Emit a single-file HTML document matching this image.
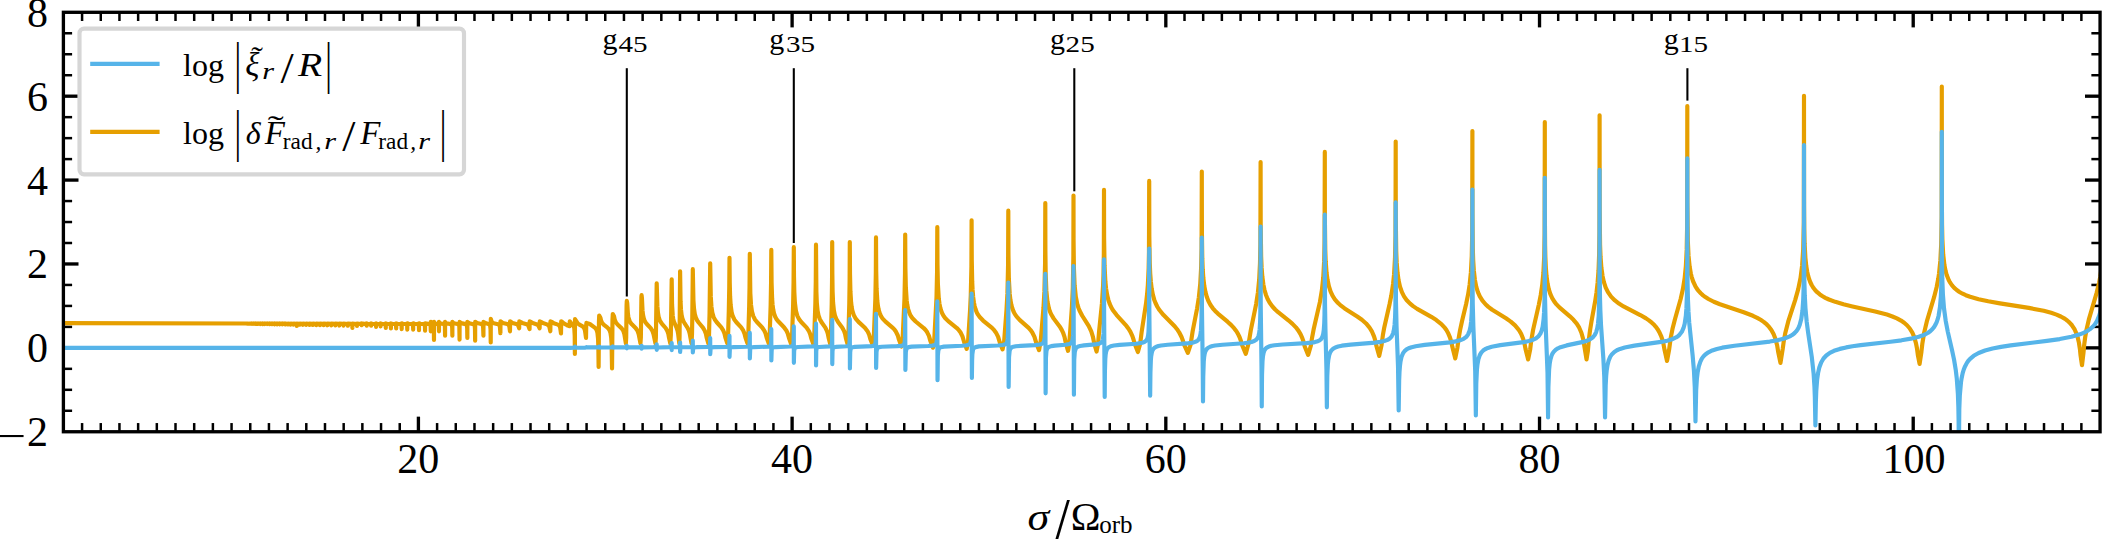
<!DOCTYPE html>
<html><head><meta charset="utf-8"><title>Tidal response spectrum</title>
<style>
html,body{margin:0;padding:0;background:#fff;}
body{width:2102px;height:539px;overflow:hidden;}
svg{display:block;}
.tM{stroke:#000;stroke-width:3.33;}
.tm{stroke:#000;stroke-width:2.5;}
.num{font-family:"Liberation Serif",serif;font-size:42px;fill:#000;}
.lg{font-family:"Liberation Serif",serif;font-size:33px;fill:#000;}
.it{font-style:italic;}
</style></head>
<body>
<svg width="2102" height="539" viewBox="0 0 2102 539">
<defs><clipPath id="ax"><rect x="63.40" y="12.30" width="2036.66" height="419.45"/></clipPath></defs>
<rect x="0" y="0" width="2102" height="539" fill="#fff"/>
<g id="ticks">
<line x1="82.08" y1="431.75" x2="82.08" y2="423.05" class="tm"/>
<line x1="82.08" y1="12.30" x2="82.08" y2="21.00" class="tm"/>
<line x1="100.77" y1="431.75" x2="100.77" y2="423.05" class="tm"/>
<line x1="100.77" y1="12.30" x2="100.77" y2="21.00" class="tm"/>
<line x1="119.45" y1="431.75" x2="119.45" y2="423.05" class="tm"/>
<line x1="119.45" y1="12.30" x2="119.45" y2="21.00" class="tm"/>
<line x1="138.14" y1="431.75" x2="138.14" y2="423.05" class="tm"/>
<line x1="138.14" y1="12.30" x2="138.14" y2="21.00" class="tm"/>
<line x1="156.82" y1="431.75" x2="156.82" y2="423.05" class="tm"/>
<line x1="156.82" y1="12.30" x2="156.82" y2="21.00" class="tm"/>
<line x1="175.51" y1="431.75" x2="175.51" y2="423.05" class="tm"/>
<line x1="175.51" y1="12.30" x2="175.51" y2="21.00" class="tm"/>
<line x1="194.19" y1="431.75" x2="194.19" y2="423.05" class="tm"/>
<line x1="194.19" y1="12.30" x2="194.19" y2="21.00" class="tm"/>
<line x1="212.88" y1="431.75" x2="212.88" y2="423.05" class="tm"/>
<line x1="212.88" y1="12.30" x2="212.88" y2="21.00" class="tm"/>
<line x1="231.56" y1="431.75" x2="231.56" y2="423.05" class="tm"/>
<line x1="231.56" y1="12.30" x2="231.56" y2="21.00" class="tm"/>
<line x1="250.25" y1="431.75" x2="250.25" y2="423.05" class="tm"/>
<line x1="250.25" y1="12.30" x2="250.25" y2="21.00" class="tm"/>
<line x1="268.94" y1="431.75" x2="268.94" y2="423.05" class="tm"/>
<line x1="268.94" y1="12.30" x2="268.94" y2="21.00" class="tm"/>
<line x1="287.62" y1="431.75" x2="287.62" y2="423.05" class="tm"/>
<line x1="287.62" y1="12.30" x2="287.62" y2="21.00" class="tm"/>
<line x1="306.30" y1="431.75" x2="306.30" y2="423.05" class="tm"/>
<line x1="306.30" y1="12.30" x2="306.30" y2="21.00" class="tm"/>
<line x1="324.99" y1="431.75" x2="324.99" y2="423.05" class="tm"/>
<line x1="324.99" y1="12.30" x2="324.99" y2="21.00" class="tm"/>
<line x1="343.67" y1="431.75" x2="343.67" y2="423.05" class="tm"/>
<line x1="343.67" y1="12.30" x2="343.67" y2="21.00" class="tm"/>
<line x1="362.36" y1="431.75" x2="362.36" y2="423.05" class="tm"/>
<line x1="362.36" y1="12.30" x2="362.36" y2="21.00" class="tm"/>
<line x1="381.04" y1="431.75" x2="381.04" y2="423.05" class="tm"/>
<line x1="381.04" y1="12.30" x2="381.04" y2="21.00" class="tm"/>
<line x1="399.73" y1="431.75" x2="399.73" y2="423.05" class="tm"/>
<line x1="399.73" y1="12.30" x2="399.73" y2="21.00" class="tm"/>
<line x1="418.41" y1="431.75" x2="418.41" y2="416.65" class="tM"/>
<line x1="418.41" y1="12.30" x2="418.41" y2="27.40" class="tM"/>
<line x1="437.10" y1="431.75" x2="437.10" y2="423.05" class="tm"/>
<line x1="437.10" y1="12.30" x2="437.10" y2="21.00" class="tm"/>
<line x1="455.78" y1="431.75" x2="455.78" y2="423.05" class="tm"/>
<line x1="455.78" y1="12.30" x2="455.78" y2="21.00" class="tm"/>
<line x1="474.47" y1="431.75" x2="474.47" y2="423.05" class="tm"/>
<line x1="474.47" y1="12.30" x2="474.47" y2="21.00" class="tm"/>
<line x1="493.15" y1="431.75" x2="493.15" y2="423.05" class="tm"/>
<line x1="493.15" y1="12.30" x2="493.15" y2="21.00" class="tm"/>
<line x1="511.84" y1="431.75" x2="511.84" y2="423.05" class="tm"/>
<line x1="511.84" y1="12.30" x2="511.84" y2="21.00" class="tm"/>
<line x1="530.52" y1="431.75" x2="530.52" y2="423.05" class="tm"/>
<line x1="530.52" y1="12.30" x2="530.52" y2="21.00" class="tm"/>
<line x1="549.21" y1="431.75" x2="549.21" y2="423.05" class="tm"/>
<line x1="549.21" y1="12.30" x2="549.21" y2="21.00" class="tm"/>
<line x1="567.89" y1="431.75" x2="567.89" y2="423.05" class="tm"/>
<line x1="567.89" y1="12.30" x2="567.89" y2="21.00" class="tm"/>
<line x1="586.58" y1="431.75" x2="586.58" y2="423.05" class="tm"/>
<line x1="586.58" y1="12.30" x2="586.58" y2="21.00" class="tm"/>
<line x1="605.26" y1="431.75" x2="605.26" y2="423.05" class="tm"/>
<line x1="605.26" y1="12.30" x2="605.26" y2="21.00" class="tm"/>
<line x1="623.95" y1="431.75" x2="623.95" y2="423.05" class="tm"/>
<line x1="623.95" y1="12.30" x2="623.95" y2="21.00" class="tm"/>
<line x1="642.63" y1="431.75" x2="642.63" y2="423.05" class="tm"/>
<line x1="642.63" y1="12.30" x2="642.63" y2="21.00" class="tm"/>
<line x1="661.32" y1="431.75" x2="661.32" y2="423.05" class="tm"/>
<line x1="661.32" y1="12.30" x2="661.32" y2="21.00" class="tm"/>
<line x1="680.00" y1="431.75" x2="680.00" y2="423.05" class="tm"/>
<line x1="680.00" y1="12.30" x2="680.00" y2="21.00" class="tm"/>
<line x1="698.69" y1="431.75" x2="698.69" y2="423.05" class="tm"/>
<line x1="698.69" y1="12.30" x2="698.69" y2="21.00" class="tm"/>
<line x1="717.37" y1="431.75" x2="717.37" y2="423.05" class="tm"/>
<line x1="717.37" y1="12.30" x2="717.37" y2="21.00" class="tm"/>
<line x1="736.06" y1="431.75" x2="736.06" y2="423.05" class="tm"/>
<line x1="736.06" y1="12.30" x2="736.06" y2="21.00" class="tm"/>
<line x1="754.74" y1="431.75" x2="754.74" y2="423.05" class="tm"/>
<line x1="754.74" y1="12.30" x2="754.74" y2="21.00" class="tm"/>
<line x1="773.43" y1="431.75" x2="773.43" y2="423.05" class="tm"/>
<line x1="773.43" y1="12.30" x2="773.43" y2="21.00" class="tm"/>
<line x1="792.11" y1="431.75" x2="792.11" y2="416.65" class="tM"/>
<line x1="792.11" y1="12.30" x2="792.11" y2="27.40" class="tM"/>
<line x1="810.80" y1="431.75" x2="810.80" y2="423.05" class="tm"/>
<line x1="810.80" y1="12.30" x2="810.80" y2="21.00" class="tm"/>
<line x1="829.48" y1="431.75" x2="829.48" y2="423.05" class="tm"/>
<line x1="829.48" y1="12.30" x2="829.48" y2="21.00" class="tm"/>
<line x1="848.17" y1="431.75" x2="848.17" y2="423.05" class="tm"/>
<line x1="848.17" y1="12.30" x2="848.17" y2="21.00" class="tm"/>
<line x1="866.85" y1="431.75" x2="866.85" y2="423.05" class="tm"/>
<line x1="866.85" y1="12.30" x2="866.85" y2="21.00" class="tm"/>
<line x1="885.54" y1="431.75" x2="885.54" y2="423.05" class="tm"/>
<line x1="885.54" y1="12.30" x2="885.54" y2="21.00" class="tm"/>
<line x1="904.22" y1="431.75" x2="904.22" y2="423.05" class="tm"/>
<line x1="904.22" y1="12.30" x2="904.22" y2="21.00" class="tm"/>
<line x1="922.91" y1="431.75" x2="922.91" y2="423.05" class="tm"/>
<line x1="922.91" y1="12.30" x2="922.91" y2="21.00" class="tm"/>
<line x1="941.59" y1="431.75" x2="941.59" y2="423.05" class="tm"/>
<line x1="941.59" y1="12.30" x2="941.59" y2="21.00" class="tm"/>
<line x1="960.28" y1="431.75" x2="960.28" y2="423.05" class="tm"/>
<line x1="960.28" y1="12.30" x2="960.28" y2="21.00" class="tm"/>
<line x1="978.96" y1="431.75" x2="978.96" y2="423.05" class="tm"/>
<line x1="978.96" y1="12.30" x2="978.96" y2="21.00" class="tm"/>
<line x1="997.65" y1="431.75" x2="997.65" y2="423.05" class="tm"/>
<line x1="997.65" y1="12.30" x2="997.65" y2="21.00" class="tm"/>
<line x1="1016.33" y1="431.75" x2="1016.33" y2="423.05" class="tm"/>
<line x1="1016.33" y1="12.30" x2="1016.33" y2="21.00" class="tm"/>
<line x1="1035.02" y1="431.75" x2="1035.02" y2="423.05" class="tm"/>
<line x1="1035.02" y1="12.30" x2="1035.02" y2="21.00" class="tm"/>
<line x1="1053.70" y1="431.75" x2="1053.70" y2="423.05" class="tm"/>
<line x1="1053.70" y1="12.30" x2="1053.70" y2="21.00" class="tm"/>
<line x1="1072.39" y1="431.75" x2="1072.39" y2="423.05" class="tm"/>
<line x1="1072.39" y1="12.30" x2="1072.39" y2="21.00" class="tm"/>
<line x1="1091.08" y1="431.75" x2="1091.08" y2="423.05" class="tm"/>
<line x1="1091.08" y1="12.30" x2="1091.08" y2="21.00" class="tm"/>
<line x1="1109.76" y1="431.75" x2="1109.76" y2="423.05" class="tm"/>
<line x1="1109.76" y1="12.30" x2="1109.76" y2="21.00" class="tm"/>
<line x1="1128.44" y1="431.75" x2="1128.44" y2="423.05" class="tm"/>
<line x1="1128.44" y1="12.30" x2="1128.44" y2="21.00" class="tm"/>
<line x1="1147.13" y1="431.75" x2="1147.13" y2="423.05" class="tm"/>
<line x1="1147.13" y1="12.30" x2="1147.13" y2="21.00" class="tm"/>
<line x1="1165.82" y1="431.75" x2="1165.82" y2="416.65" class="tM"/>
<line x1="1165.82" y1="12.30" x2="1165.82" y2="27.40" class="tM"/>
<line x1="1184.50" y1="431.75" x2="1184.50" y2="423.05" class="tm"/>
<line x1="1184.50" y1="12.30" x2="1184.50" y2="21.00" class="tm"/>
<line x1="1203.18" y1="431.75" x2="1203.18" y2="423.05" class="tm"/>
<line x1="1203.18" y1="12.30" x2="1203.18" y2="21.00" class="tm"/>
<line x1="1221.87" y1="431.75" x2="1221.87" y2="423.05" class="tm"/>
<line x1="1221.87" y1="12.30" x2="1221.87" y2="21.00" class="tm"/>
<line x1="1240.56" y1="431.75" x2="1240.56" y2="423.05" class="tm"/>
<line x1="1240.56" y1="12.30" x2="1240.56" y2="21.00" class="tm"/>
<line x1="1259.24" y1="431.75" x2="1259.24" y2="423.05" class="tm"/>
<line x1="1259.24" y1="12.30" x2="1259.24" y2="21.00" class="tm"/>
<line x1="1277.92" y1="431.75" x2="1277.92" y2="423.05" class="tm"/>
<line x1="1277.92" y1="12.30" x2="1277.92" y2="21.00" class="tm"/>
<line x1="1296.61" y1="431.75" x2="1296.61" y2="423.05" class="tm"/>
<line x1="1296.61" y1="12.30" x2="1296.61" y2="21.00" class="tm"/>
<line x1="1315.30" y1="431.75" x2="1315.30" y2="423.05" class="tm"/>
<line x1="1315.30" y1="12.30" x2="1315.30" y2="21.00" class="tm"/>
<line x1="1333.98" y1="431.75" x2="1333.98" y2="423.05" class="tm"/>
<line x1="1333.98" y1="12.30" x2="1333.98" y2="21.00" class="tm"/>
<line x1="1352.66" y1="431.75" x2="1352.66" y2="423.05" class="tm"/>
<line x1="1352.66" y1="12.30" x2="1352.66" y2="21.00" class="tm"/>
<line x1="1371.35" y1="431.75" x2="1371.35" y2="423.05" class="tm"/>
<line x1="1371.35" y1="12.30" x2="1371.35" y2="21.00" class="tm"/>
<line x1="1390.04" y1="431.75" x2="1390.04" y2="423.05" class="tm"/>
<line x1="1390.04" y1="12.30" x2="1390.04" y2="21.00" class="tm"/>
<line x1="1408.72" y1="431.75" x2="1408.72" y2="423.05" class="tm"/>
<line x1="1408.72" y1="12.30" x2="1408.72" y2="21.00" class="tm"/>
<line x1="1427.40" y1="431.75" x2="1427.40" y2="423.05" class="tm"/>
<line x1="1427.40" y1="12.30" x2="1427.40" y2="21.00" class="tm"/>
<line x1="1446.09" y1="431.75" x2="1446.09" y2="423.05" class="tm"/>
<line x1="1446.09" y1="12.30" x2="1446.09" y2="21.00" class="tm"/>
<line x1="1464.78" y1="431.75" x2="1464.78" y2="423.05" class="tm"/>
<line x1="1464.78" y1="12.30" x2="1464.78" y2="21.00" class="tm"/>
<line x1="1483.46" y1="431.75" x2="1483.46" y2="423.05" class="tm"/>
<line x1="1483.46" y1="12.30" x2="1483.46" y2="21.00" class="tm"/>
<line x1="1502.14" y1="431.75" x2="1502.14" y2="423.05" class="tm"/>
<line x1="1502.14" y1="12.30" x2="1502.14" y2="21.00" class="tm"/>
<line x1="1520.83" y1="431.75" x2="1520.83" y2="423.05" class="tm"/>
<line x1="1520.83" y1="12.30" x2="1520.83" y2="21.00" class="tm"/>
<line x1="1539.52" y1="431.75" x2="1539.52" y2="416.65" class="tM"/>
<line x1="1539.52" y1="12.30" x2="1539.52" y2="27.40" class="tM"/>
<line x1="1558.20" y1="431.75" x2="1558.20" y2="423.05" class="tm"/>
<line x1="1558.20" y1="12.30" x2="1558.20" y2="21.00" class="tm"/>
<line x1="1576.88" y1="431.75" x2="1576.88" y2="423.05" class="tm"/>
<line x1="1576.88" y1="12.30" x2="1576.88" y2="21.00" class="tm"/>
<line x1="1595.57" y1="431.75" x2="1595.57" y2="423.05" class="tm"/>
<line x1="1595.57" y1="12.30" x2="1595.57" y2="21.00" class="tm"/>
<line x1="1614.25" y1="431.75" x2="1614.25" y2="423.05" class="tm"/>
<line x1="1614.25" y1="12.30" x2="1614.25" y2="21.00" class="tm"/>
<line x1="1632.94" y1="431.75" x2="1632.94" y2="423.05" class="tm"/>
<line x1="1632.94" y1="12.30" x2="1632.94" y2="21.00" class="tm"/>
<line x1="1651.62" y1="431.75" x2="1651.62" y2="423.05" class="tm"/>
<line x1="1651.62" y1="12.30" x2="1651.62" y2="21.00" class="tm"/>
<line x1="1670.31" y1="431.75" x2="1670.31" y2="423.05" class="tm"/>
<line x1="1670.31" y1="12.30" x2="1670.31" y2="21.00" class="tm"/>
<line x1="1688.99" y1="431.75" x2="1688.99" y2="423.05" class="tm"/>
<line x1="1688.99" y1="12.30" x2="1688.99" y2="21.00" class="tm"/>
<line x1="1707.68" y1="431.75" x2="1707.68" y2="423.05" class="tm"/>
<line x1="1707.68" y1="12.30" x2="1707.68" y2="21.00" class="tm"/>
<line x1="1726.37" y1="431.75" x2="1726.37" y2="423.05" class="tm"/>
<line x1="1726.37" y1="12.30" x2="1726.37" y2="21.00" class="tm"/>
<line x1="1745.05" y1="431.75" x2="1745.05" y2="423.05" class="tm"/>
<line x1="1745.05" y1="12.30" x2="1745.05" y2="21.00" class="tm"/>
<line x1="1763.73" y1="431.75" x2="1763.73" y2="423.05" class="tm"/>
<line x1="1763.73" y1="12.30" x2="1763.73" y2="21.00" class="tm"/>
<line x1="1782.42" y1="431.75" x2="1782.42" y2="423.05" class="tm"/>
<line x1="1782.42" y1="12.30" x2="1782.42" y2="21.00" class="tm"/>
<line x1="1801.11" y1="431.75" x2="1801.11" y2="423.05" class="tm"/>
<line x1="1801.11" y1="12.30" x2="1801.11" y2="21.00" class="tm"/>
<line x1="1819.79" y1="431.75" x2="1819.79" y2="423.05" class="tm"/>
<line x1="1819.79" y1="12.30" x2="1819.79" y2="21.00" class="tm"/>
<line x1="1838.47" y1="431.75" x2="1838.47" y2="423.05" class="tm"/>
<line x1="1838.47" y1="12.30" x2="1838.47" y2="21.00" class="tm"/>
<line x1="1857.16" y1="431.75" x2="1857.16" y2="423.05" class="tm"/>
<line x1="1857.16" y1="12.30" x2="1857.16" y2="21.00" class="tm"/>
<line x1="1875.85" y1="431.75" x2="1875.85" y2="423.05" class="tm"/>
<line x1="1875.85" y1="12.30" x2="1875.85" y2="21.00" class="tm"/>
<line x1="1894.53" y1="431.75" x2="1894.53" y2="423.05" class="tm"/>
<line x1="1894.53" y1="12.30" x2="1894.53" y2="21.00" class="tm"/>
<line x1="1913.21" y1="431.75" x2="1913.21" y2="416.65" class="tM"/>
<line x1="1913.21" y1="12.30" x2="1913.21" y2="27.40" class="tM"/>
<line x1="1931.90" y1="431.75" x2="1931.90" y2="423.05" class="tm"/>
<line x1="1931.90" y1="12.30" x2="1931.90" y2="21.00" class="tm"/>
<line x1="1950.59" y1="431.75" x2="1950.59" y2="423.05" class="tm"/>
<line x1="1950.59" y1="12.30" x2="1950.59" y2="21.00" class="tm"/>
<line x1="1969.27" y1="431.75" x2="1969.27" y2="423.05" class="tm"/>
<line x1="1969.27" y1="12.30" x2="1969.27" y2="21.00" class="tm"/>
<line x1="1987.95" y1="431.75" x2="1987.95" y2="423.05" class="tm"/>
<line x1="1987.95" y1="12.30" x2="1987.95" y2="21.00" class="tm"/>
<line x1="2006.64" y1="431.75" x2="2006.64" y2="423.05" class="tm"/>
<line x1="2006.64" y1="12.30" x2="2006.64" y2="21.00" class="tm"/>
<line x1="2025.33" y1="431.75" x2="2025.33" y2="423.05" class="tm"/>
<line x1="2025.33" y1="12.30" x2="2025.33" y2="21.00" class="tm"/>
<line x1="2044.01" y1="431.75" x2="2044.01" y2="423.05" class="tm"/>
<line x1="2044.01" y1="12.30" x2="2044.01" y2="21.00" class="tm"/>
<line x1="2062.69" y1="431.75" x2="2062.69" y2="423.05" class="tm"/>
<line x1="2062.69" y1="12.30" x2="2062.69" y2="21.00" class="tm"/>
<line x1="2081.38" y1="431.75" x2="2081.38" y2="423.05" class="tm"/>
<line x1="2081.38" y1="12.30" x2="2081.38" y2="21.00" class="tm"/>
<line x1="63.40" y1="410.78" x2="72.10" y2="410.78" class="tm"/>
<line x1="2100.07" y1="410.78" x2="2091.37" y2="410.78" class="tm"/>
<line x1="63.40" y1="389.81" x2="72.10" y2="389.81" class="tm"/>
<line x1="2100.07" y1="389.81" x2="2091.37" y2="389.81" class="tm"/>
<line x1="63.40" y1="368.83" x2="72.10" y2="368.83" class="tm"/>
<line x1="2100.07" y1="368.83" x2="2091.37" y2="368.83" class="tm"/>
<line x1="63.40" y1="347.86" x2="78.50" y2="347.86" class="tM"/>
<line x1="2100.07" y1="347.86" x2="2084.97" y2="347.86" class="tM"/>
<line x1="63.40" y1="326.89" x2="72.10" y2="326.89" class="tm"/>
<line x1="2100.07" y1="326.89" x2="2091.37" y2="326.89" class="tm"/>
<line x1="63.40" y1="305.92" x2="72.10" y2="305.92" class="tm"/>
<line x1="2100.07" y1="305.92" x2="2091.37" y2="305.92" class="tm"/>
<line x1="63.40" y1="284.94" x2="72.10" y2="284.94" class="tm"/>
<line x1="2100.07" y1="284.94" x2="2091.37" y2="284.94" class="tm"/>
<line x1="63.40" y1="263.97" x2="78.50" y2="263.97" class="tM"/>
<line x1="2100.07" y1="263.97" x2="2084.97" y2="263.97" class="tM"/>
<line x1="63.40" y1="243.00" x2="72.10" y2="243.00" class="tm"/>
<line x1="2100.07" y1="243.00" x2="2091.37" y2="243.00" class="tm"/>
<line x1="63.40" y1="222.03" x2="72.10" y2="222.03" class="tm"/>
<line x1="2100.07" y1="222.03" x2="2091.37" y2="222.03" class="tm"/>
<line x1="63.40" y1="201.05" x2="72.10" y2="201.05" class="tm"/>
<line x1="2100.07" y1="201.05" x2="2091.37" y2="201.05" class="tm"/>
<line x1="63.40" y1="180.08" x2="78.50" y2="180.08" class="tM"/>
<line x1="2100.07" y1="180.08" x2="2084.97" y2="180.08" class="tM"/>
<line x1="63.40" y1="159.11" x2="72.10" y2="159.11" class="tm"/>
<line x1="2100.07" y1="159.11" x2="2091.37" y2="159.11" class="tm"/>
<line x1="63.40" y1="138.14" x2="72.10" y2="138.14" class="tm"/>
<line x1="2100.07" y1="138.14" x2="2091.37" y2="138.14" class="tm"/>
<line x1="63.40" y1="117.16" x2="72.10" y2="117.16" class="tm"/>
<line x1="2100.07" y1="117.16" x2="2091.37" y2="117.16" class="tm"/>
<line x1="63.40" y1="96.19" x2="78.50" y2="96.19" class="tM"/>
<line x1="2100.07" y1="96.19" x2="2084.97" y2="96.19" class="tM"/>
<line x1="63.40" y1="75.22" x2="72.10" y2="75.22" class="tm"/>
<line x1="2100.07" y1="75.22" x2="2091.37" y2="75.22" class="tm"/>
<line x1="63.40" y1="54.25" x2="72.10" y2="54.25" class="tm"/>
<line x1="2100.07" y1="54.25" x2="2091.37" y2="54.25" class="tm"/>
<line x1="63.40" y1="33.27" x2="72.10" y2="33.27" class="tm"/>
<line x1="2100.07" y1="33.27" x2="2091.37" y2="33.27" class="tm"/>
</g>
<g clip-path="url(#ax)" fill="none" stroke-linejoin="round" stroke-linecap="butt" stroke-width="4.17">
<path stroke="#E69F00" d="M63.40 323.11L245.81 323.53L247.76 323.67L247.76 323.53L249.75 323.71L249.75 323.53L251.45 323.58L251.78 323.75L251.78 323.53L253.55 323.59L253.85 323.79L253.86 323.53L255.67 323.60L255.97 323.84L255.97 323.53L257.84 323.61L258.13 323.88L258.13 323.52L260.06 323.61L260.33 323.92L260.33 323.52L262.32 323.62L262.57 323.97L262.58 323.52L264.62 323.63L264.87 324.02L264.87 323.52L266.96 323.64L267.21 324.07L267.21 323.52L269.36 323.65L269.61 324.11L269.61 323.52L271.80 323.65L272.05 324.16L272.05 323.52L274.32 323.67L274.55 324.22L274.55 323.52L276.88 323.68L277.11 324.27L277.11 323.52L279.49 323.68L279.72 324.32L279.72 323.52L282.16 323.69L282.39 324.38L282.40 323.52L284.89 323.70L285.13 324.43L285.13 323.52L287.70 323.71L287.93 324.49L287.93 323.52L290.55 323.72L290.79 324.55L290.79 323.52L293.48 323.73L293.72 324.61L293.72 323.52L296.53 323.77L296.70 325.92L296.70 323.52L299.57 323.75L299.80 324.73L299.80 323.52L302.71 323.76L302.95 324.79L302.95 323.52L305.77 323.73L306.09 323.92L306.18 324.86L306.18 323.52L309.00 323.73L309.40 323.92L309.49 324.93L309.50 323.52L312.34 323.73L312.79 323.93L312.89 325.00L312.89 323.52L315.77 323.74L316.27 323.94L316.38 325.07L316.38 323.51L319.71 323.81L319.89 324.09L319.95 325.14L319.96 323.51L323.37 323.82L323.56 324.10L323.63 325.22L323.63 323.51L327.14 323.83L327.33 324.13L327.40 325.29L327.40 323.51L331.01 323.86L331.20 324.22L331.28 325.37L331.28 323.51L334.96 323.88L335.17 324.22L335.26 325.45L335.26 323.51L339.02 323.90L339.26 324.28L339.35 325.54L339.36 323.51L343.21 323.92L343.45 324.26L343.57 325.62L343.57 323.51L347.52 323.95L347.78 324.33L347.90 325.71L347.91 323.51L351.56 323.86L352.12 324.06L352.33 324.90L352.40 327.92L352.40 323.51L356.54 324.00L356.83 324.46L356.96 325.89L356.96 323.50L361.15 323.98L361.48 324.28L361.69 325.22L361.70 323.38L362.67 323.70L366.19 324.04L366.51 324.46L366.69 325.72L366.70 323.38L367.58 323.71L370.62 324.05L370.91 324.43L371.09 325.72L371.10 323.38L372.17 323.72L375.29 323.99L375.69 324.16L375.89 324.49L376.09 326.81L376.10 323.38L377.00 323.71L380.14 324.12L380.43 324.66L380.59 326.31L380.60 323.38L381.75 323.73L384.79 323.99L385.34 324.20L385.58 324.61L385.79 327.92L385.80 323.38L386.96 323.74L389.87 324.01L390.48 324.27L390.78 325.31L390.89 328.52L390.90 323.38L392.14 323.75L395.10 324.02L395.74 324.29L396.04 325.13L396.19 328.52L396.20 323.38L397.48 323.75L400.56 324.04L401.25 324.35L401.57 325.54L401.69 329.12L401.70 323.38L403.05 323.76L406.14 324.07L406.84 324.39L407.16 325.65L407.29 329.62L407.30 323.38L408.72 323.77L411.94 324.08L412.69 324.41L413.02 325.42L413.19 329.62L413.20 323.38L414.63 323.78L417.76 324.11L418.52 324.48L418.86 325.90L418.99 330.22L419.00 323.38L420.63 323.76L423.72 324.10L424.58 324.52L424.92 325.77L425.08 330.72L425.10 323.38L429.43 324.09L430.29 324.58L430.63 326.08L430.78 331.31L430.80 321.88L431.27 323.42L433.34 324.15L433.79 324.93L433.99 340.02L434.00 321.88L434.44 323.01L434.81 323.41L437.80 324.09L438.52 324.63L438.82 326.06L438.98 331.31L439.00 321.88L439.62 323.01L440.06 323.37L443.55 324.07L444.44 324.58L444.76 325.37L444.92 326.89L445.07 335.72L445.10 321.88L445.89 322.94L446.42 323.30L450.69 324.11L451.37 324.42L451.77 324.90L452.18 327.33L452.36 335.72L452.40 321.88L453.32 322.95L453.85 323.27L457.49 323.99L458.49 324.39L459.05 325.19L459.34 326.98L459.56 339.62L459.60 321.88L461.11 323.15L465.58 324.13L466.29 324.53L466.71 325.10L467.01 326.36L467.17 328.33L467.35 338.02L467.40 321.88L469.22 323.17L473.53 324.21L474.15 324.65L474.51 325.25L474.81 326.68L474.97 328.98L475.14 340.72L475.20 321.88L477.08 323.07L481.29 324.07L482.05 324.45L482.54 324.97L482.92 325.97L483.14 327.65L483.43 335.72L483.50 321.88L485.40 323.11L489.09 324.22L489.72 324.72L490.10 325.44L490.53 329.05L490.73 342.42L490.80 318.78L491.66 321.63L492.43 322.60L493.77 323.18L497.98 324.16L498.81 324.60L499.32 325.14L499.70 326.00L499.95 327.26L500.40 333.22L500.50 321.38L502.87 322.90L507.23 324.07L508.61 324.89L509.06 325.56L509.37 326.57L509.99 331.31L510.10 321.38L512.55 322.90L516.24 323.99L517.45 324.60L518.24 325.63L519.18 328.31L519.30 321.38L522.28 322.94L526.59 324.18L527.62 324.74L528.30 325.48L529.55 329.12L529.70 321.38L531.33 322.13L532.66 323.01L536.24 324.14L537.51 324.75L538.37 325.67L539.64 328.31L539.80 321.38L541.53 322.11L542.86 323.03L546.94 324.37L548.42 325.24L548.99 325.96L549.36 326.85L550.32 331.31L550.50 321.38L552.30 322.17L553.77 323.18L557.93 324.65L559.26 325.63L559.80 326.50L560.18 327.68L561.00 333.52L561.20 321.38L562.64 322.28L563.27 323.03L564.23 323.71L566.55 324.85L567.56 325.56L569.61 326.12L569.80 321.38L570.71 322.49L571.43 323.79L573.51 325.95L573.99 326.97L574.30 328.32L574.71 335.57L574.87 354.02L575.00 319.19L577.74 323.41L579.01 324.37L582.61 326.39L584.11 328.02L585.01 330.60L586.03 338.02L586.22 324.85L586.40 322.88L589.81 323.95L594.78 327.58L595.70 328.55L596.46 329.76L597.05 331.28L597.47 333.08L598.06 338.69L598.38 347.87L598.62 366.92L598.95 321.43L599.20 315.48L600.41 317.67L601.12 320.68L602.11 322.78L603.63 324.58L607.21 327.40L608.55 328.75L609.71 330.64L610.52 333.08L611.20 337.59L611.59 344.04L612.04 368.42L612.49 319.83L612.80 313.98L614.00 316.24L614.78 319.87L615.98 322.57L617.54 324.52L621.69 328.35L623.35 330.94L624.36 334.24L625.88 343.42L626.20 337.31L626.58 305.44L626.80 300.78L627.24 303.08L627.92 313.91L628.37 316.88L628.99 319.38L629.77 321.34L630.84 323.11L632.11 324.60L635.81 328.26L637.56 330.93L638.73 334.45L640.47 343.42L640.87 337.15L641.41 297.30L641.60 295.19L641.95 298.30L642.55 310.97L643.04 315.05L643.74 318.29L644.61 320.69L645.72 322.63L647.01 324.24L650.69 328.13L652.43 330.91L653.57 334.34L655.44 343.42L655.87 337.82L656.70 283.28L657.39 306.15L657.94 312.71L658.63 316.76L659.51 319.66L660.70 322.00L661.98 323.77L665.63 327.99L667.31 330.85L668.39 334.17L669.08 338.14L670.34 343.42L670.85 334.72L671.70 279.28L672.06 304.44L672.72 315.72L673.22 318.92L673.88 321.47L676.65 327.83L677.59 330.81L678.16 333.98L679.30 343.42L679.57 336.77L680.10 271.38L680.56 301.45L680.98 309.48L681.56 314.69L682.32 318.21L683.32 320.96L684.49 323.12L687.58 327.80L688.91 330.73L689.75 333.79L691.52 343.42L692.00 334.18L692.26 319.76L692.80 269.19L693.43 300.37L694.00 308.57L694.81 313.94L695.84 317.60L697.21 320.49L698.81 322.77L702.93 327.61L704.76 330.69L705.91 333.88L706.75 337.96L708.34 343.42L708.99 336.13L709.57 312.78L710.20 263.28L710.78 296.66L711.41 306.45L712.30 312.59L713.44 316.65L714.96 319.80L716.74 322.25L721.31 327.40L723.34 330.64L724.48 333.55L725.50 337.94L727.30 343.42L728.04 336.93L728.80 310.83L729.25 287.44L729.50 257.78L729.76 283.23L730.10 296.21L730.65 305.02L731.66 312.24L732.78 316.24L734.51 319.74L736.38 322.22L741.19 327.45L743.32 330.74L744.52 333.71L745.46 337.48L747.46 343.42L748.26 336.21L749.19 305.70L749.54 287.16L749.80 253.89L750.32 293.04L751.00 304.74L751.99 311.70L753.27 316.12L754.96 319.47L756.94 322.04L762.18 327.50L764.44 330.85L765.57 333.47L766.70 337.76L768.79 343.42L769.67 335.47L770.65 305.35L771.07 282.64L771.30 249.89L771.59 282.76L772.14 299.01L772.57 304.68L773.24 309.71L774.04 313.38L775.22 316.72L776.41 318.95L777.74 320.81L783.96 327.21L786.32 330.44L787.80 333.65L788.99 338.05L791.13 343.92L792.08 335.31L793.13 304.71L793.56 282.34L793.80 247.19L794.00 276.69L794.31 291.81L794.90 302.76L795.92 310.72L797.23 315.55L798.99 319.12L801.18 321.97L806.58 327.60L808.90 331.05L810.08 333.83L811.25 338.35L813.33 343.92L814.17 338.38L815.36 303.62L815.78 281.06L816.00 244.69L816.37 291.32L816.80 302.61L817.55 310.60L818.51 315.46L819.78 319.06L821.38 321.95L825.33 327.64L827.00 331.09L827.88 333.98L828.63 337.86L830.23 343.92L830.87 337.68L831.72 304.06L832.04 280.82L832.20 241.99L832.34 273.53L832.60 291.34L833.07 302.47L833.88 310.46L834.92 315.39L836.31 319.01L838.05 321.92L842.33 327.68L844.12 331.12L845.11 334.12L846.02 338.78L847.63 344.42L848.35 337.09L849.28 303.80L849.62 280.60L849.80 241.99L850.01 274.00L850.41 291.25L851.10 302.29L851.63 306.70L852.30 310.36L853.85 315.29L855.92 318.95L858.51 321.89L864.88 327.74L867.51 331.17L869.02 334.30L870.40 339.16L872.73 344.92L873.75 338.79L875.36 298.89L875.82 273.12L876.00 237.39L876.20 270.91L876.58 288.49L877.34 301.03L877.94 305.92L878.60 309.39L879.36 312.23L880.33 314.76L881.29 316.63L882.63 318.63L885.51 321.69L892.81 327.81L894.54 329.68L895.88 331.55L897.80 335.53L898.95 339.57L901.50 346.52L902.60 339.70L904.49 298.50L905.00 272.79L905.20 234.49L905.41 268.53L905.83 287.50L906.67 300.19L907.21 304.41L908.05 308.74L908.90 311.65L909.95 314.26L911.01 316.21L912.49 318.29L915.66 321.50L923.68 328.01L925.58 330.04L927.06 332.08L928.96 335.91L930.43 341.08L932.98 347.72L934.23 340.33L936.52 297.11L937.08 271.59L937.30 226.99L937.48 264.23L937.87 283.62L938.77 298.38L939.45 303.61L940.25 307.64L941.03 310.38L942.16 313.27L943.51 315.76L945.09 317.93L948.25 321.10L956.82 328.02L958.85 330.16L960.43 332.31L962.46 336.34L964.04 341.78L966.70 348.92L968.10 340.58L970.03 310.64L970.76 295.70L971.41 266.37L971.60 220.28L971.77 259.65L972.19 281.47L972.59 289.90L973.17 297.03L973.90 302.39L974.62 305.99L975.59 309.39L976.79 312.41L978.00 314.65L979.69 317.04L983.07 320.52L992.00 327.86L994.17 330.14L995.86 332.41L998.04 336.64L999.73 342.26L1002.59 349.42L1004.13 341.61L1006.48 310.17L1007.41 293.64L1008.09 264.57L1008.30 210.69L1008.44 254.23L1008.86 278.98L1009.69 293.66L1010.39 299.69L1011.35 304.85L1012.32 308.37L1013.54 311.51L1014.75 313.86L1016.46 316.38L1019.86 320.10L1028.63 327.86L1030.57 330.05L1032.28 332.45L1034.47 336.87L1036.17 342.70L1039.06 350.12L1040.79 340.46L1043.47 307.76L1044.40 291.64L1045.09 262.80L1045.30 202.99L1045.40 251.09L1045.68 273.79L1046.32 290.43L1047.44 301.43L1048.92 308.46L1049.86 311.31L1051.15 314.27L1053.74 318.62L1060.23 327.34L1061.72 329.82L1063.02 332.54L1064.50 336.85L1065.80 342.95L1068.03 350.81L1069.32 343.28L1071.92 306.58L1072.81 288.02L1073.37 255.60L1073.50 195.59L1073.59 241.47L1073.90 267.82L1074.61 285.24L1075.80 296.79L1077.42 304.57L1078.42 307.75L1079.62 310.76L1082.23 315.74L1088.65 325.93L1091.26 331.48L1092.86 336.52L1094.27 343.57L1096.55 351.52L1098.08 343.66L1099.07 331.74L1101.89 303.97L1103.08 285.71L1103.51 273.27L1103.83 253.47L1104.00 189.89L1104.12 238.80L1104.53 265.20L1105.36 281.56L1106.07 288.48L1107.15 295.11L1108.32 299.85L1109.51 303.39L1110.99 306.78L1112.78 309.95L1116.64 315.12L1126.45 325.92L1128.53 328.75L1130.32 331.69L1132.40 336.21L1133.59 339.75L1134.48 343.21L1137.91 352.02L1140.18 343.80L1141.61 332.23L1146.05 303.37L1147.13 293.80L1147.86 284.80L1148.61 268.61L1148.95 252.85L1149.20 180.89L1149.33 236.47L1149.75 262.87L1150.21 273.36L1150.85 281.76L1151.65 288.38L1152.84 294.68L1154.22 299.63L1155.61 303.26L1157.34 306.75L1159.41 310.03L1163.56 315.07L1174.64 326.23L1177.06 329.20L1179.13 332.29L1181.55 337.02L1182.94 340.71L1183.98 344.34L1187.86 352.92L1190.55 344.82L1192.63 331.31L1197.12 308.29L1198.85 297.29L1200.24 284.01L1201.12 267.93L1201.56 248.32L1201.80 171.48L1201.91 231.98L1202.30 258.43L1202.74 269.52L1203.35 278.07L1204.32 286.16L1205.48 292.19L1206.86 297.06L1208.38 300.93L1210.51 304.95L1212.83 308.27L1215.15 310.95L1217.86 313.60L1227.53 321.70L1231.01 324.85L1234.07 328.14L1236.42 331.26L1237.97 333.81L1239.51 336.98L1241.06 341.18L1242.16 345.25L1245.80 353.81L1248.80 342.49L1250.73 330.65L1256.14 304.06L1257.91 292.48L1259.17 279.52L1259.98 263.34L1260.38 243.79L1260.60 161.99L1260.70 226.29L1261.15 256.56L1261.63 267.67L1262.33 276.60L1263.35 284.37L1264.45 289.77L1265.89 294.69L1267.63 298.97L1269.69 302.70L1272.64 306.72L1275.18 309.46L1278.13 312.18L1288.69 320.54L1292.49 323.83L1295.87 327.33L1298.40 330.62L1300.51 334.15L1302.20 337.85L1303.47 341.50L1304.73 346.47L1308.15 354.92L1310.84 345.76L1311.99 338.02L1313.60 329.58L1319.94 301.90L1321.86 290.45L1323.24 277.56L1324.13 261.42L1324.56 241.89L1324.80 151.89L1324.89 220.06L1325.29 250.35L1325.72 261.47L1326.53 272.30L1327.48 279.55L1328.87 286.17L1330.64 291.63L1332.50 295.62L1334.84 299.28L1338.10 303.07L1341.00 305.69L1344.63 308.43L1357.22 316.46L1361.88 319.76L1366.08 323.46L1369.34 327.29L1372.14 331.94L1374.01 336.40L1374.94 339.39L1376.34 345.61L1379.23 355.92L1381.47 345.65L1382.87 335.22L1384.27 327.47L1389.60 303.94L1391.26 295.77L1393.07 284.06L1394.06 274.40L1394.99 258.18L1395.49 235.65L1395.70 141.49L1395.78 217.27L1396.23 251.35L1396.70 262.45L1397.48 272.38L1398.55 280.19L1400.00 286.67L1401.91 292.17L1404.03 296.36L1406.56 299.95L1410.09 303.65L1413.11 306.12L1417.15 308.86L1431.28 316.86L1436.32 320.04L1441.36 324.06L1444.90 327.93L1446.41 330.07L1447.92 332.68L1449.94 337.35L1451.45 342.46L1452.46 347.35L1455.26 358.42L1457.44 347.61L1458.52 339.12L1460.03 330.33L1462.05 321.01L1466.08 304.22L1468.10 294.45L1469.62 284.78L1470.88 272.38L1471.75 256.23L1472.21 232.83L1472.40 131.09L1472.46 214.20L1472.81 248.36L1473.16 259.54L1473.83 270.48L1474.90 279.80L1476.27 286.80L1477.89 292.11L1479.79 296.43L1482.46 300.71L1485.50 304.25L1488.36 306.85L1492.17 309.72L1505.98 318.29L1510.74 321.60L1515.03 325.34L1518.37 329.28L1519.79 331.44L1521.22 334.09L1523.12 338.81L1524.55 343.96L1525.50 348.88L1528.15 359.42L1530.20 349.31L1531.22 340.87L1533.09 329.85L1538.84 304.62L1540.71 295.18L1542.17 285.40L1543.37 273.05L1544.18 256.94L1544.63 233.56L1544.80 121.99L1544.85 211.71L1545.11 245.89L1545.38 257.09L1545.88 268.05L1546.51 275.81L1547.59 283.68L1548.78 289.19L1550.37 294.13L1552.20 298.14L1554.36 301.65L1556.52 304.41L1559.40 307.43L1569.86 316.36L1573.46 319.79L1576.71 323.66L1579.23 327.72L1581.39 332.71L1583.14 338.94L1586.53 359.42L1587.88 350.88L1588.83 339.87L1590.04 330.30L1591.48 321.43L1595.09 301.72L1596.50 292.45L1597.61 282.77L1598.52 270.49L1599.13 254.42L1599.47 231.06L1599.60 115.28L1599.67 210.85L1600.09 245.02L1600.52 256.21L1601.37 267.54L1602.56 276.12L1603.91 282.15L1605.72 287.55L1607.98 292.17L1611.09 296.61L1614.90 300.46L1618.94 303.57L1623.55 306.45L1640.28 315.06L1646.05 318.40L1648.93 320.36L1651.81 322.66L1654.12 324.86L1655.85 326.82L1657.58 329.17L1659.31 332.06L1661.04 335.82L1662.20 339.09L1663.36 343.42L1664.54 349.80L1667.03 360.92L1669.12 349.69L1670.71 337.94L1672.46 329.09L1674.89 319.51L1680.65 299.01L1682.96 288.76L1684.66 278.13L1685.85 266.28L1686.69 249.66L1687.13 226.35L1687.30 106.08L1687.36 202.77L1687.83 240.76L1688.53 255.63L1689.61 266.46L1690.81 273.42L1691.63 276.80L1693.07 281.26L1695.58 286.61L1697.00 288.86L1698.79 291.19L1700.75 293.29L1703.05 295.34L1705.35 297.06L1708.42 298.99L1713.80 301.74L1719.94 304.27L1743.73 312.25L1752.94 315.81L1757.19 317.83L1760.62 319.77L1763.69 321.86L1766.76 324.46L1769.06 326.91L1771.36 330.03L1773.67 334.26L1775.20 338.14L1777.16 345.53L1778.27 352.33L1780.47 362.92L1782.71 349.00L1783.78 341.07L1785.36 332.65L1788.25 321.44L1795.16 300.06L1798.23 289.16L1800.53 277.91L1802.13 265.40L1803.19 249.32L1803.82 222.09L1804.00 95.78L1804.08 205.84L1804.27 228.68L1804.62 243.73L1805.38 257.60L1806.28 266.19L1807.19 271.68L1808.10 275.66L1809.11 279.08L1810.31 282.22L1811.79 285.24L1813.54 288.02L1815.28 290.23L1817.19 292.21L1819.88 294.47L1822.60 296.30L1825.32 297.82L1828.94 299.51L1835.29 301.87L1843.44 304.24L1852.51 306.42L1875.17 311.42L1886.95 314.59L1892.39 316.47L1896.92 318.40L1900.98 320.59L1904.17 322.77L1907.00 325.25L1909.61 328.25L1912.33 332.63L1914.14 336.83L1915.95 343.07L1916.95 348.26L1917.81 354.79L1919.60 363.92L1921.39 352.14L1922.30 343.91L1924.11 332.89L1926.83 321.45L1934.01 297.47L1936.69 286.90L1938.21 278.98L1939.08 273.19L1940.35 260.64L1941.18 244.67L1941.66 217.50L1941.80 86.58L1941.87 201.67L1942.06 224.50L1942.40 239.57L1943.18 254.30L1944.40 264.93L1945.56 270.87L1946.62 274.74L1948.80 280.23L1949.82 282.13L1952.05 285.40L1954.24 287.85L1956.74 290.04L1959.50 291.96L1962.62 293.71L1965.83 295.18L1970.09 296.78L1978.63 299.22L1988.23 301.30L1999.96 303.34L2028.77 307.88L2043.70 310.82L2051.17 312.81L2056.50 314.63L2060.77 316.49L2065.04 318.92L2067.17 320.45L2069.31 322.31L2071.96 325.26L2074.64 329.47L2076.77 334.44L2077.84 337.93L2078.91 342.62L2079.89 348.91L2080.57 355.53L2082.00 365.22L2083.43 353.30L2084.24 344.41L2085.12 337.62L2086.38 330.25L2088.80 319.64L2096.57 293.11L2099.12 282.64L2100.24 276.77L2101.40 268.99L2102.29 260.55L2102.88 252.41L2103.61 232.67L2103.93 201.78L2104.00 -29.64"/>
<path stroke="#56B4E9" d="M63.40 347.86L569.80 347.86L574.61 347.61L574.89 347.38L575.00 346.58L575.01 347.72L585.09 347.56L585.88 347.45L586.40 347.08L586.41 347.42L598.23 347.41L598.79 347.21L599.20 346.58L599.21 347.72L601.75 347.51L611.32 347.33L612.22 347.14L612.80 346.58L612.81 347.72L615.24 347.43L625.48 347.19L626.29 346.92L626.80 345.88L626.82 348.31L627.53 347.67L628.60 347.44L640.28 347.09L641.05 346.79L641.60 345.88L641.62 348.72L642.25 347.74L643.24 347.43L653.67 347.15L655.64 346.95L656.07 346.74L656.35 346.34L656.70 344.38L656.72 349.81L657.15 348.01L657.44 347.68L658.03 347.46L668.89 347.08L670.77 346.82L671.16 346.55L671.40 346.02L671.70 343.08L671.71 350.12L671.95 348.05L672.42 347.46L673.66 347.25L678.58 347.03L679.63 346.71L679.93 345.89L680.10 342.58L680.12 352.02L680.36 348.52L680.57 347.89L680.99 347.52L682.82 347.24L690.67 346.98L692.17 346.57L692.60 345.46L692.80 340.69L692.83 352.42L693.16 348.60L693.45 347.92L694.01 347.51L696.52 347.20L707.39 346.91L708.70 346.74L709.40 346.43L709.78 345.87L709.97 344.87L710.20 338.08L710.24 354.22L710.58 348.82L710.90 347.98L711.43 347.55L714.20 347.16L726.50 346.82L727.91 346.62L728.67 346.25L729.07 345.56L729.30 344.05L729.50 335.88L729.54 356.81L729.84 349.52L730.12 348.30L730.77 347.60L731.84 347.29L733.59 347.13L746.79 346.71L748.31 346.44L749.05 345.93L749.40 345.06L749.60 343.37L749.80 332.88L749.85 358.52L750.16 349.88L750.46 348.43L751.15 347.63L752.28 347.28L754.14 347.09L768.12 346.61L769.69 346.31L770.50 345.71L770.94 344.33L771.12 342.19L771.30 329.19L771.36 360.42L771.67 350.27L772.00 348.57L772.71 347.67L773.89 347.26L775.85 347.05L790.47 346.51L792.10 346.17L792.96 345.48L793.36 344.37L793.61 341.57L793.80 326.38L793.87 362.81L794.16 350.82L794.46 348.83L795.05 347.81L796.16 347.30L798.11 347.02L812.71 346.40L814.32 346.02L815.18 345.26L815.56 344.03L815.81 340.95L816.00 323.69L816.06 365.42L816.26 351.19L816.48 348.97L816.92 347.85L817.72 347.29L819.15 346.99L829.80 346.31L830.97 345.89L831.61 345.03L831.93 343.22L832.06 340.44L832.20 319.88L832.27 364.12L832.50 351.27L832.77 348.91L833.30 347.76L834.23 347.23L835.78 346.94L846.90 346.28L848.23 345.91L848.93 345.33L849.39 343.91L849.62 340.84L849.80 319.08L849.91 368.52L850.22 351.91L850.58 349.23L851.28 347.90L852.58 347.23L854.89 346.88L872.12 346.09L874.01 345.61L874.70 345.11L875.05 344.61L875.57 342.54L875.82 338.08L876.00 313.88L876.13 368.02L876.51 351.88L876.96 349.11L877.34 348.30L877.83 347.76L879.17 347.15L881.86 346.76L896.84 346.19L900.87 345.88L902.99 345.35L903.76 344.80L904.17 344.19L904.73 341.82L905.00 337.13L905.20 309.98L905.38 370.02L905.83 352.24L906.29 349.48L906.67 348.57L907.21 347.90L908.69 347.15L911.64 346.67L928.11 345.98L932.55 345.61L934.97 344.91L935.71 344.31L936.13 343.65L936.77 340.97L937.08 335.47L937.30 301.38L937.53 380.22L937.87 355.27L938.32 350.59L938.77 349.06L939.24 348.27L939.90 347.66L940.80 347.21L943.96 346.59L962.01 345.73L966.61 345.29L969.00 344.55L969.84 343.85L970.35 343.01L971.03 339.94L971.36 333.82L971.60 293.58L971.88 377.92L972.10 360.86L972.36 354.23L972.92 350.14L973.28 349.12L973.90 348.15L974.62 347.54L975.59 347.08L978.97 346.42L997.79 345.46L1002.81 344.96L1004.40 344.58L1005.52 344.08L1006.24 343.49L1006.97 342.33L1007.41 340.83L1007.71 338.68L1008.09 330.08L1008.30 282.69L1008.64 386.92L1009.03 356.93L1009.64 350.84L1009.99 349.59L1010.62 348.40L1011.35 347.65L1012.32 347.09L1015.73 346.28L1020.59 345.85L1034.95 345.11L1039.82 344.52L1041.52 344.02L1042.72 343.32L1043.47 342.46L1044.06 341.15L1044.71 337.28L1045.09 327.84L1045.30 273.78L1045.62 393.31L1045.95 357.68L1046.42 351.41L1046.81 349.62L1047.25 348.51L1047.81 347.71L1048.74 346.97L1051.25 346.13L1054.86 345.63L1065.43 344.75L1069.21 344.04L1070.44 343.51L1071.36 342.74L1071.92 341.91L1072.48 340.29L1073.05 335.43L1073.34 324.96L1073.50 265.98L1073.91 394.62L1074.24 359.59L1074.78 352.04L1075.63 348.85L1076.21 347.92L1077.22 347.04L1078.42 346.46L1080.00 346.02L1084.04 345.43L1095.27 344.42L1099.33 343.60L1100.69 342.97L1101.69 342.10L1102.29 341.14L1102.89 339.30L1103.51 333.92L1103.83 322.71L1104.00 259.38L1104.11 313.37L1104.71 397.02L1104.89 373.09L1105.30 358.77L1105.64 354.66L1106.07 351.99L1106.60 350.13L1107.42 348.55L1108.32 347.58L1109.80 346.65L1111.59 346.03L1113.97 345.53L1119.61 344.90L1136.26 343.72L1142.21 342.79L1144.29 342.05L1145.78 341.05L1146.93 339.51L1147.56 337.90L1148.10 335.38L1148.48 331.99L1148.95 320.09L1149.20 248.69L1149.33 309.93L1150.16 395.62L1150.42 372.63L1150.85 360.20L1151.17 356.38L1151.80 352.60L1152.49 350.46L1153.53 348.73L1154.79 347.57L1156.30 346.74L1158.37 346.06L1161.14 345.51L1167.72 344.79L1186.74 343.45L1190.90 342.94L1193.66 342.38L1196.08 341.53L1197.81 340.39L1198.85 339.16L1199.85 336.99L1200.52 334.07L1200.96 330.38L1201.51 317.81L1201.73 294.63L1201.80 237.69L1201.94 307.52L1202.74 367.71L1203.00 401.42L1203.24 376.84L1203.76 361.22L1204.13 357.21L1204.71 353.70L1205.48 351.18L1206.86 348.91L1208.19 347.74L1210.12 346.75L1212.44 346.04L1215.15 345.52L1222.50 344.71L1243.77 343.21L1248.27 342.66L1251.50 342.03L1254.21 341.09L1256.14 339.84L1257.54 338.14L1258.47 336.02L1259.17 333.05L1259.66 329.15L1260.10 321.85L1260.33 313.06L1260.55 285.34L1260.60 226.69L1260.73 305.49L1261.50 366.64L1261.76 406.42L1262.02 374.90L1262.51 360.99L1262.93 356.46L1263.54 353.04L1264.45 350.40L1265.46 348.82L1266.73 347.65L1268.84 346.56L1271.38 345.82L1274.57 345.27L1282.78 344.51L1306.42 343.15L1311.49 342.64L1314.87 342.09L1317.82 341.25L1319.94 340.11L1321.20 338.90L1322.47 336.61L1323.24 333.84L1323.77 330.17L1324.25 323.19L1324.51 314.65L1324.75 287.26L1324.80 214.69L1325.01 304.27L1325.40 327.78L1326.44 368.83L1326.86 407.31L1327.28 375.91L1327.84 364.21L1328.31 359.74L1329.24 354.97L1330.17 352.41L1331.57 350.18L1333.34 348.56L1335.30 347.47L1338.10 346.49L1341.83 345.67L1350.69 344.58L1374.94 342.59L1380.15 341.89L1384.27 341.03L1387.53 339.87L1389.86 338.41L1391.73 336.26L1393.07 333.31L1393.97 329.53L1394.57 324.96L1395.10 316.77L1395.38 307.32L1395.64 278.81L1395.70 202.39L1395.75 270.51L1395.98 302.62L1396.51 325.67L1398.02 366.25L1398.69 410.42L1399.15 380.57L1399.49 372.08L1400.00 365.44L1400.50 361.49L1401.51 356.87L1403.03 353.21L1404.54 351.12L1406.56 349.40L1408.57 348.28L1411.60 347.17L1415.64 346.20L1424.72 344.88L1449.94 342.32L1455.72 341.39L1460.00 340.31L1463.56 338.82L1466.08 336.99L1467.09 335.88L1468.10 334.37L1469.55 330.86L1470.53 326.51L1471.17 321.41L1471.75 312.57L1472.05 302.66L1472.35 269.87L1472.40 189.49L1472.45 266.97L1472.73 302.99L1473.34 326.10L1475.20 370.81L1475.84 415.42L1476.27 383.76L1476.93 369.66L1477.45 364.58L1478.36 359.39L1479.79 355.08L1481.22 352.62L1483.12 350.58L1485.03 349.25L1487.89 347.92L1491.70 346.75L1500.27 345.17L1523.60 342.13L1528.78 341.08L1532.63 339.93L1535.98 338.32L1538.36 336.43L1540.27 333.86L1541.70 330.51L1542.65 326.66L1543.60 319.39L1544.08 312.13L1544.47 299.53L1544.75 266.45L1544.80 177.78L1544.84 262.81L1545.05 298.49L1545.68 325.68L1547.51 372.58L1548.07 417.42L1548.40 387.47L1549.12 369.46L1549.67 363.95L1550.39 359.65L1551.46 355.87L1552.56 353.48L1554.00 351.41L1555.73 349.76L1557.96 348.33L1560.49 347.21L1566.61 345.41L1583.19 341.87L1587.01 340.67L1590.04 339.30L1592.56 337.53L1594.73 334.98L1596.17 332.05L1597.25 328.28L1597.97 324.06L1598.69 316.27L1599.35 295.75L1599.56 262.39L1599.60 169.89L1599.66 262.19L1600.00 297.82L1600.35 310.60L1601.00 324.80L1603.36 358.61L1604.28 376.74L1605.05 417.42L1605.67 385.46L1606.19 375.80L1606.73 370.12L1607.54 364.93L1608.73 360.31L1610.28 356.68L1612.01 354.14L1614.32 351.93L1616.90 350.28L1620.09 348.88L1624.70 347.49L1634.51 345.61L1661.04 341.92L1667.20 340.67L1672.00 339.26L1676.04 337.44L1677.99 336.15L1679.50 334.82L1681.81 331.82L1683.54 327.98L1684.69 323.70L1685.85 315.82L1686.42 308.18L1686.90 295.19L1687.25 258.00L1687.30 158.39L1687.38 259.95L1687.58 283.39L1687.95 299.57L1688.47 311.42L1689.23 322.71L1692.64 355.49L1693.96 370.82L1694.78 387.12L1695.48 421.42L1696.17 390.18L1696.91 378.47L1697.68 372.02L1698.79 366.37L1700.37 361.55L1701.52 359.21L1702.59 357.51L1703.82 355.98L1705.35 354.46L1708.42 352.27L1712.26 350.44L1716.87 348.93L1722.24 347.67L1734.52 345.73L1769.80 341.56L1778.23 340.08L1784.41 338.50L1789.78 336.37L1792.09 335.04L1794.39 333.26L1795.92 331.67L1797.40 329.67L1798.66 327.41L1799.67 324.96L1801.30 318.85L1802.49 310.36L1803.19 300.22L1803.57 289.50L1803.95 252.00L1804.00 144.99L1804.09 256.04L1804.33 279.40L1804.77 295.44L1805.45 308.11L1806.72 322.05L1808.10 332.59L1811.79 357.00L1813.61 373.59L1814.44 386.51L1814.84 396.95L1815.39 425.42L1815.86 401.79L1816.25 391.18L1817.16 379.35L1818.04 373.13L1819.30 367.55L1821.17 362.47L1823.50 358.53L1826.28 355.49L1829.85 352.90L1834.01 350.85L1839.82 348.90L1846.16 347.41L1852.51 346.27L1860.66 345.11L1890.57 341.71L1901.45 340.31L1911.07 338.68L1918.78 336.79L1922.30 335.59L1925.38 334.26L1928.13 332.71L1930.45 331.00L1932.26 329.28L1934.01 327.12L1935.49 324.69L1936.69 322.09L1937.70 319.17L1938.61 315.68L1940.01 306.92L1940.85 296.60L1941.29 285.76L1941.74 248.14L1941.80 131.78L1941.94 255.36L1942.28 278.70L1942.92 294.71L1944.01 308.37L1945.75 321.15L1947.82 331.85L1952.05 350.19L1954.09 359.92L1955.73 369.85L1956.74 378.18L1957.88 393.69L1958.36 406.59L1958.64 422.93L1958.85 457.92L1959.29 409.38L1959.81 395.68L1960.96 382.55L1961.56 378.53L1962.62 373.40L1963.69 369.74L1964.76 366.93L1966.89 362.85L1968.03 361.21L1970.09 358.81L1973.68 355.80L1978.63 352.98L1985.03 350.52L1992.50 348.53L2001.03 346.85L2010.63 345.37L2046.90 340.90L2059.71 339.07L2071.44 336.78L2079.89 334.34L2084.11 332.63L2087.44 330.88L2090.04 329.13L2092.78 326.73L2094.91 324.23L2097.04 320.82L2099.12 315.93L2100.05 312.85L2101.40 306.35L2102.62 295.98L2103.40 281.42L2103.79 262.66L2103.99 213.08L2104.00 -29.64"/>
</g>
<g id="annot" stroke="#000" stroke-width="2.08">
<line x1="626.8" y1="68.2" x2="626.8" y2="296.5"/>
<line x1="793.8" y1="68.2" x2="793.8" y2="243.0"/>
<line x1="1074.3" y1="68.2" x2="1074.3" y2="191.3"/>
<line x1="1687.4" y1="68.2" x2="1687.4" y2="100.6"/>
</g>
<g class="lg">
<text x="602.4" y="48.5" font-size="30">g</text><text transform="translate(618.4,51.9) scale(1.25,1)" font-size="23.3">45</text>
<text x="769.2" y="48.5" font-size="30">g</text><text transform="translate(786,51.9) scale(1.25,1)" font-size="23.3">35</text>
<text x="1049.9" y="48.5" font-size="30">g</text><text transform="translate(1065.6,51.9) scale(1.25,1)" font-size="23.3">25</text>
<text x="1663.7" y="48.5" font-size="30">g</text><text transform="translate(1678.9,51.9) scale(1.25,1)" font-size="23.3">15</text>
</g>
<rect x="63.40" y="12.30" width="2036.66" height="419.45" fill="none" stroke="#000" stroke-width="3.33"/>
<g class="num">
<text x="48" y="26.7" text-anchor="end">8</text>
<text x="48" y="110.6" text-anchor="end">6</text>
<text x="48" y="194.5" text-anchor="end">4</text>
<text x="48" y="278.4" text-anchor="end">2</text>
<text x="48" y="362.3" text-anchor="end">0</text>
<text x="48" y="445.7" text-anchor="end">2</text>
<text transform="translate(-11,450) scale(1.6,1)">−</text>
<text x="418.3" y="472.8" text-anchor="middle">20</text>
<text x="792.1" y="472.8" text-anchor="middle">40</text>
<text x="1165.8" y="472.8" text-anchor="middle">60</text>
<text x="1539.6" y="472.8" text-anchor="middle">80</text>
<text x="1914.0" y="472.8" text-anchor="middle">100</text>
</g>
<g class="num">
<text transform="translate(1027.5,530) scale(1.05,0.88)" class="it">σ</text>
<text transform="translate(1053.5,543.6) scale(1.4,1.615)">/</text>
<text x="1070.7" y="530" font-size="40">Ω</text>
<text x="1099.3" y="532.7" font-size="25">orb</text>
</g>
<g id="legend">
<rect x="79.5" y="28.6" width="384.5" height="145.7" rx="4.5" ry="4.5" fill="#fff" fill-opacity="0.8" stroke="#d6d6d6" stroke-width="4.17"/>
<line x1="90.2" y1="63.9" x2="159.6" y2="63.9" stroke="#56B4E9" stroke-width="4.17"/>
<line x1="90.2" y1="131.9" x2="159.6" y2="131.9" stroke="#E69F00" stroke-width="4.17"/>
<g class="lg">
<text x="183" y="76.1" font-size="32">log</text>
<text x="245.2" y="76.1" class="it">ξ</text>
<text transform="translate(251.2,66.9) scale(1.17,1)" font-size="30">˜</text>
<text transform="translate(262.25,79.4) scale(1.3,1)" class="it" font-size="23.3">r</text>
<text transform="translate(280.4,82.6) scale(1.44,1.36)">/</text>
<text transform="translate(297.9,76.1) scale(1.2,1)" class="it">R</text>
<text x="183" y="143.5" font-size="32">log</text>
<text x="245.8" y="143.5" class="it" font-size="32">δ</text>
<text x="264.8" y="143.5" class="it">F</text>
<text transform="translate(267.7,135.6) scale(1.6,1)" font-size="30">˜</text>
<text x="282.8" y="148.7" font-size="23.3">rad</text>
<text x="315.4" y="148.7" font-size="23.3" class="it">,</text>
<text transform="translate(324.15,148.7) scale(1.3,1)" font-size="23.3" class="it">r</text>
<text transform="translate(342.3,150.6) scale(1.44,1.36)">/</text>
<text x="360.3" y="143.5" class="it">F</text>
<text x="378.3" y="148.7" font-size="23.3">rad</text>
<text x="410.2" y="148.7" font-size="23.3" class="it">,</text>
<text transform="translate(418.35,148.7) scale(1.3,1)" font-size="23.3" class="it">r</text>
<text transform="translate(234.4,81.6) scale(1,1.733)">|</text>
<text transform="translate(325.3,81.6) scale(1,1.733)">|</text>
<text transform="translate(234.6,149.8) scale(1,1.756)">|</text>
<text transform="translate(439.8,149.8) scale(1,1.756)">|</text>
</g>
</g>
</svg>
</body></html>
